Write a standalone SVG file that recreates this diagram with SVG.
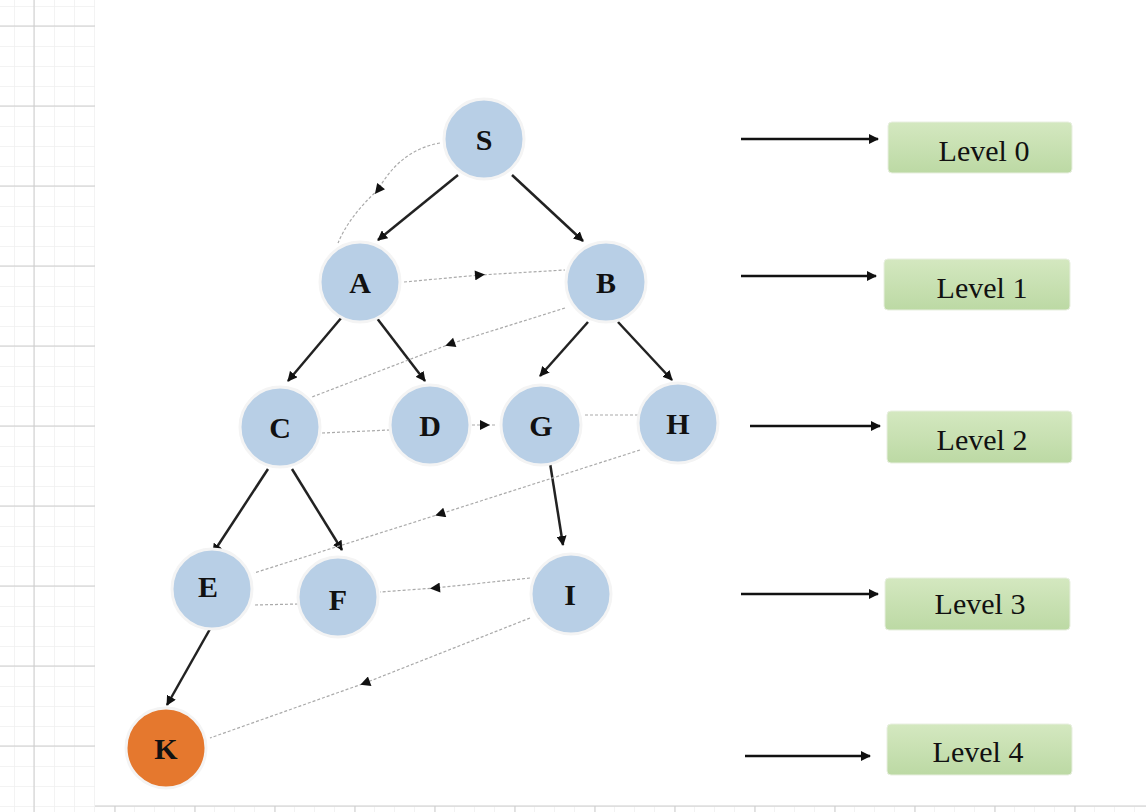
<svg xmlns="http://www.w3.org/2000/svg" width="1146" height="812" viewBox="0 0 1146 812">
<defs>
<pattern id="minor" width="20" height="20" patternUnits="userSpaceOnUse" x="14" y="6"><path d="M0 0H20M0 0V20" stroke="#f0f0f0" stroke-width="1.5" fill="none"/></pattern>
<marker id="ah" viewBox="0 0 10 10" refX="9" refY="5" markerWidth="4" markerHeight="4" orient="auto"><path d="M0 0L10 5L0 10z" fill="#111"/></marker>
<marker id="ahb" viewBox="0 0 10 10" refX="9" refY="5" markerWidth="14" markerHeight="10" markerUnits="userSpaceOnUse" orient="auto"><path d="M0 0L10 5L0 10z" fill="#111"/></marker>
<marker id="mid" viewBox="0 0 10 10" refX="5" refY="5" markerWidth="12" markerHeight="10" markerUnits="userSpaceOnUse" orient="auto"><path d="M0 0L10 5L0 10z" fill="#111"/></marker>
<linearGradient id="lv" x1="0" y1="0" x2="0" y2="1"><stop offset="0" stop-color="#d4e8c0"/><stop offset="1" stop-color="#bcd9a4"/></linearGradient>
</defs>
<style>
.n circle{fill:#b8cfe6;stroke:#f4f4f4;stroke-width:3}
.n text,.lv text{font-family:"Liberation Serif",serif;font-size:30px;fill:#111;text-anchor:middle}
.n text{font-weight:bold}
.lv rect{fill:url(#lv);stroke:#e8efe0;stroke-width:1}
.s{stroke:#222;stroke-width:2.5;fill:none;marker-end:url(#ah)}
.d{stroke:#aaa;stroke-width:1.2;stroke-dasharray:3 2;fill:none;marker-mid:url(#mid)}
.la{stroke:#111;stroke-width:2.5;marker-end:url(#ahb)}
</style>
<rect width="1146" height="812" fill="#fff"/>
<g id="grid">
<rect x="0" y="0" width="95" height="812" fill="url(#minor)"/>
<rect x="95" y="806" width="1051" height="6" fill="url(#minor)"/>
<path d="M34 0V812M0 26H95M0 106H95M0 186H95M0 266H95M0 346H95M0 426H95M0 506H95M0 586H95M0 666H95M0 746H95M115 806V812M195 806V812M275 806V812M355 806V812M435 806V812M515 806V812M595 806V812M675 806V812M755 806V812M835 806V812M915 806V812M995 806V812M1075 806V812M95 806H1146" stroke="#ccc" stroke-width="1"/>
</g>
<g id="connectors">
<path class="s" d="M458 175L378 240"/>
<path class="s" d="M512 175L583 241"/>
<path class="s" d="M342 317L288 381"/>
<path class="s" d="M376 317L425 381"/>
<path class="s" d="M588 322L540 376"/>
<path class="s" d="M618 322L672 380"/>
<path class="s" d="M268 469L213 553"/>
<path class="s" d="M292 469L342 550"/>
<path class="s" d="M550 463L563 545"/>
<path class="s" d="M210 629L167 705"/>
<path class="d" d="M440 143Q400 150 378 190Q350 215 338 243"/>
<path class="d" d="M404 282L480 275L565 270"/>
<path class="d" d="M565 308L450 344L312 397"/>
<path class="d" d="M322 433L390 430"/>
<path class="d" d="M472 425L485 425L497 425"/>
<path class="d" d="M585 415L638 415"/>
<path class="d" d="M640 450L440 514L254 573"/>
<path class="d" d="M255 605L298 604"/>
<path class="d" d="M530 578L435 588L380 592"/>
<path class="d" d="M530 618L365 683L210 738"/>
<path class="la" d="M741 139H878"/>
<path class="la" d="M741 276H876"/>
<path class="la" d="M750 426H880"/>
<path class="la" d="M741 594H878"/>
<path class="la" d="M745 756H870"/>
</g>
<g id="S" class="n"><circle cx="484" cy="139" r="40"/><text x="484" y="150">S</text></g>
<g id="A" class="n"><circle cx="360" cy="282" r="40"/><text x="360" y="293">A</text></g>
<g id="B" class="n"><circle cx="606" cy="282" r="40"/><text x="606" y="293">B</text></g>
<g id="C" class="n"><circle cx="280" cy="427" r="40"/><text x="280" y="438">C</text></g>
<g id="D" class="n"><circle cx="430" cy="425" r="40"/><text x="430" y="436">D</text></g>
<g id="G" class="n"><circle cx="541" cy="425" r="40"/><text x="541" y="436">G</text></g>
<g id="H" class="n"><circle cx="678" cy="423" r="40"/><text x="678" y="434">H</text></g>
<g id="E" class="n"><circle cx="212" cy="589" r="40"/><text x="208" y="597">E</text></g>
<g id="F" class="n"><circle cx="338" cy="597" r="40"/><text x="338" y="610">F</text></g>
<g id="I" class="n"><circle cx="571" cy="594" r="40"/><text x="570" y="605">I</text></g>
<g id="K" class="n"><circle cx="166" cy="748" r="40" style="fill:#e5782e"/><text x="166" y="759">K</text></g>
<g id="L0" class="lv"><rect x="888" y="122" width="184" height="51" rx="4"/><text x="984" y="161">Level 0</text></g>
<g id="L1" class="lv"><rect x="884" y="259" width="186" height="51" rx="4"/><text x="982" y="298">Level 1</text></g>
<g id="L2" class="lv"><rect x="887" y="411" width="185" height="52" rx="4"/><text x="982" y="450">Level 2</text></g>
<g id="L3" class="lv"><rect x="885" y="578" width="185" height="52" rx="4"/><text x="980" y="614">Level 3</text></g>
<g id="L4" class="lv"><rect x="887" y="724" width="185" height="51" rx="4"/><text x="978" y="762">Level 4</text></g>
</svg>
